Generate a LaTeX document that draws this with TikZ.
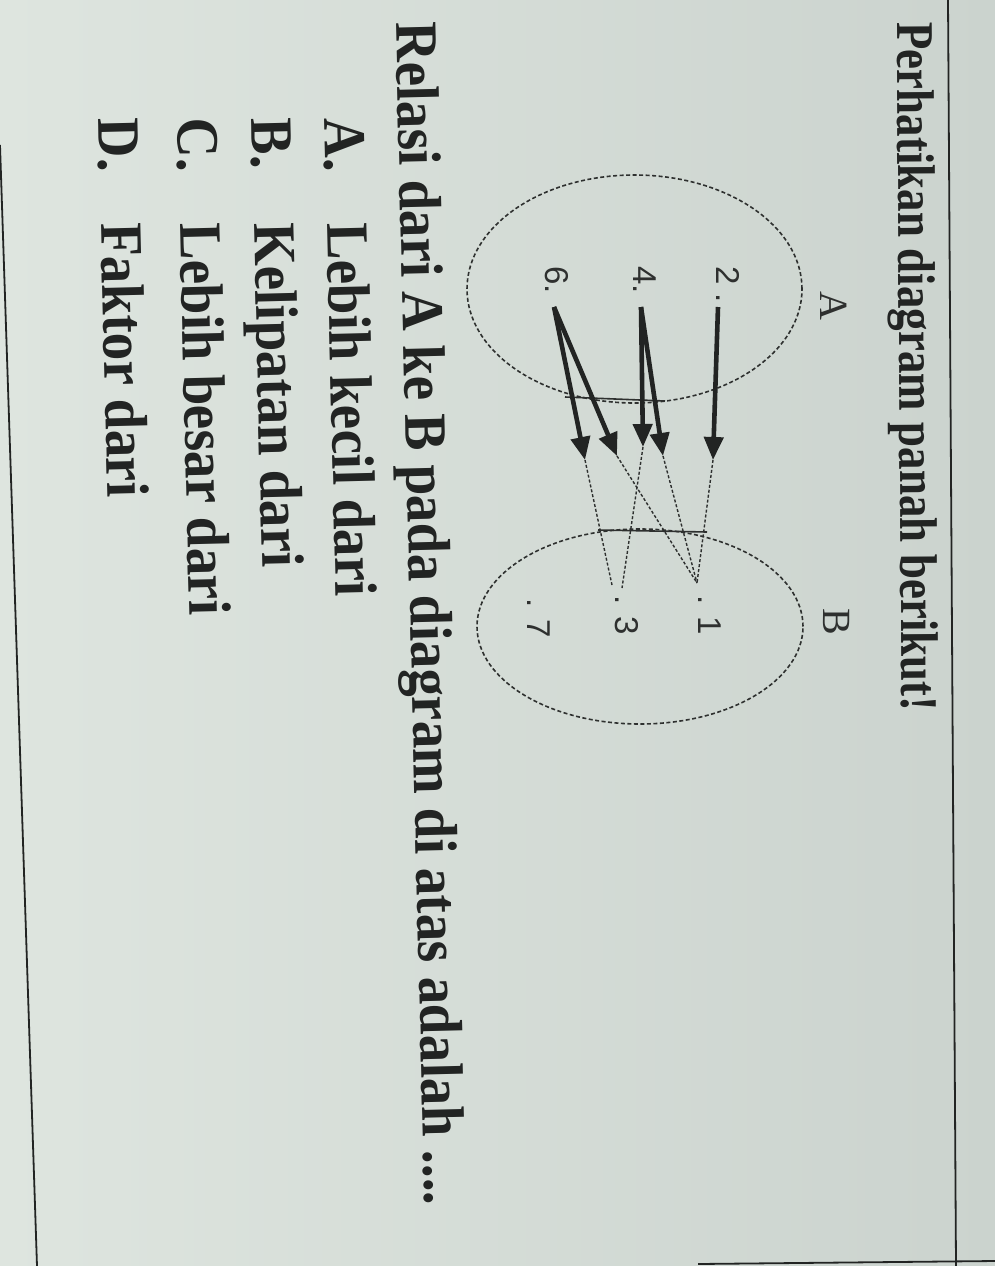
\documentclass[tikz,border=0pt]{standalone}
\usepackage{fontspec}
\setmainfont{Liberation Serif}
\newfontfamily\bodyfont[FakeStretch=0.92]{Liberation Serif}
\newfontfamily\titlefont[FakeStretch=0.85]{Liberation Serif}
\newfontfamily\digitfont{Liberation Sans}
\usetikzlibrary{arrows.meta,shapes.geometric}
\definecolor{paperL}{RGB}{222,229,223}
\definecolor{paperD}{RGB}{203,211,206}
\definecolor{ink}{RGB}{34,36,35}
\definecolor{inkd}{RGB}{46,48,47}
\begin{document}
\begin{tikzpicture}[x=1pt,y=-1pt,
  basetxt/.style={inner sep=0pt, anchor=base west, text=ink},
  txt/.style={basetxt, rotate=-88.6,
    font={\bodyfont\bfseries\fontsize{60}{72}\selectfont}},
  titletxt/.style={basetxt, rotate=-89.6,
    font={\titlefont\bfseries\fontsize{53}{64}\selectfont}},
  num/.style={inner sep=0pt, anchor=base west, rotate=-90, text=inkd,
    font={\digitfont\fontsize{33}{40}\selectfont}},
  setlbl/.style={inner sep=0pt, anchor=base west, rotate=-90, text=inkd,
    font={\fontsize{40}{48}\selectfont}},
  setshape/.style={ellipse, draw=inkd, line width=1.6pt, dash pattern=on 4pt off 2.5pt, inner sep=0pt},
  solidseg/.style={draw=inkd, line width=1.6pt},
  thickarr/.style={draw=ink, line width=4.6pt, -{Triangle[length=23pt,width=19pt]}},
  thinline/.style={draw=inkd, line width=1.4pt, dash pattern=on 3pt off 2pt},
  border/.style={draw=ink, line width=1.8pt}
]
\useasboundingbox (0,0) rectangle (995,1266);
\shade[left color=paperL, right color=paperD] (0,0) rectangle (995,1266);

% table borders
\draw[border] (948,0) -- (956,1266);
\draw[border] (0,145) -- (37,1266);
\draw[border] (698,1264) -- (995,1261);

% texts
\node[titletxt] (title) at (897,22) {Perhatikan diagram panah berikut!};
\node[txt] (q) at (396,22) {Relasi dari A ke B pada diagram di atas adalah ....};
\node[txt] (la) at (324,118) {A.};
\node[txt] (ta) at (327,223) {Lebih kecil dari};
\node[txt] (lb) at (251,118) {B.};
\node[txt] (tb) at (254,223) {Kelipatan dari};
\node[txt] (lc) at (177,118) {C.};
\node[txt] (tc) at (180,223) {Lebih besar dari};
\node[txt] (ld) at (98,118) {D.};
\node[txt] (td) at (101,223) {Faktor dari};

% sets
\node[setshape, minimum width=335pt, minimum height=228pt] (setA) at (634.5,289) {};
\node[setshape, minimum width=326pt, minimum height=195pt] (setB) at (640,626.5) {};
\draw[solidseg] (565,397) -- (665,401);
\draw[solidseg] (598,530) -- (707,532);

\node[setlbl] (lA) at (820,291) {A};
\node[setlbl] (lB) at (823,608) {B};

\node[num] (n2) at (716,266) {2 .};
\node[num] (n4) at (633,266) {4.};
\node[num] (n6) at (545,266) {6.};
\node[num] (n1) at (698,595) {. 1};
\node[num] (n3) at (615,595) {. 3};
\node[num] (n7) at (527,598) {. 7};

% arrow coordinates
\coordinate (a2) at (718,307);
\coordinate (a4) at (641,307);
\coordinate (a6) at (554,307);
\coordinate (m21) at (713,460);
\coordinate (m43) at (643,447);
\coordinate (m41) at (663,456);
\coordinate (m63) at (585,460);
\coordinate (m61) at (617,456);
\coordinate (b1) at (697,583);
\coordinate (b3r) at (622,588);
\coordinate (b3l) at (612,585);

\draw[thickarr] (a2) -- (m21);
\draw[thickarr] (a4) -- (m43);
\draw[thickarr] (a4) -- (m41);
\draw[thickarr] (a6) -- (m63);
\draw[thickarr] (a6) -- (m61);

\draw[thinline] (m21) -- (b1);
\draw[thinline] (m41) -- (b1);
\draw[thinline] (m61) -- (b1);
\draw[thinline] (m43) -- (b3r);
\draw[thinline] (m63) -- (b3l);
\end{tikzpicture}
\end{document}
